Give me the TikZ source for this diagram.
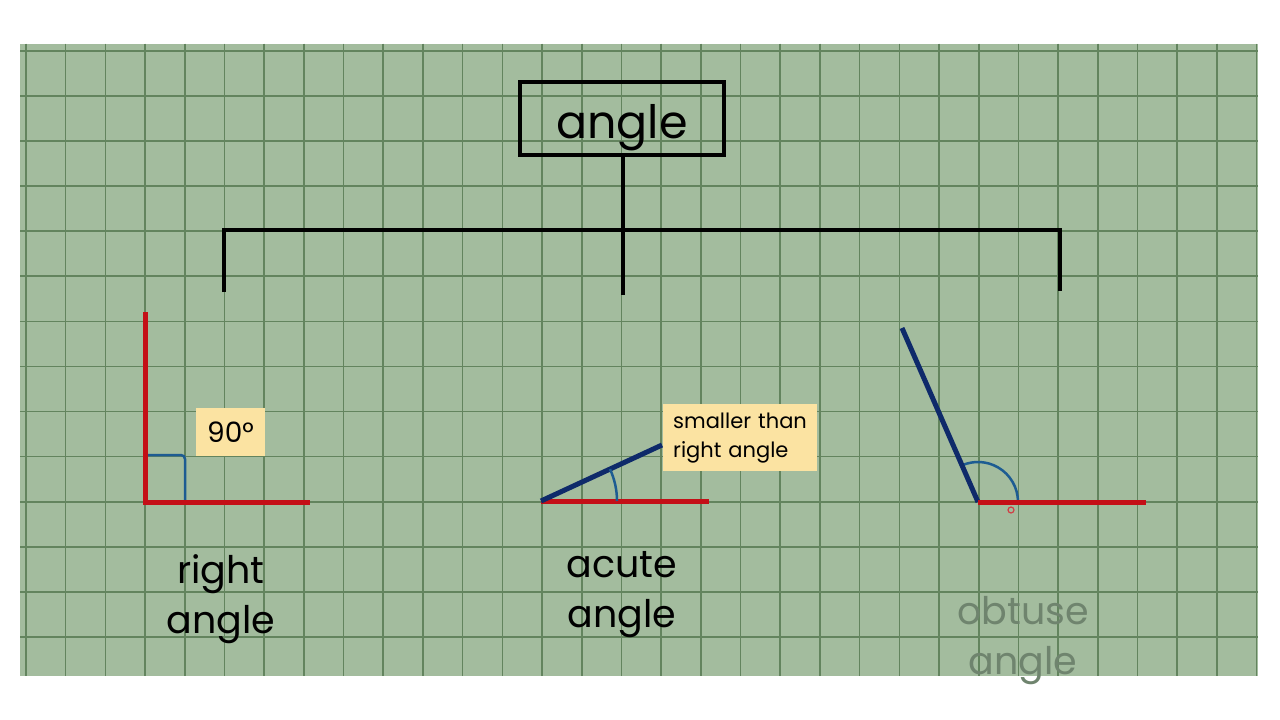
\documentclass[tikz,border=0pt]{standalone}
\usepackage{fontspec}
\setmainfont{Poppins}
\definecolor{panel}{HTML}{A3BC9E}
\definecolor{gridc}{HTML}{63845E}
\definecolor{rayred}{HTML}{C40F17}
\definecolor{navy}{HTML}{0E2A6A}
\definecolor{markblue}{HTML}{1D5C92}
\definecolor{yel}{HTML}{FBE3A2}
\definecolor{fadetext}{HTML}{6F846E}
\begin{document}
\begin{tikzpicture}[x=1pt,y=-1pt,
  gridline/.style={draw=gridc, line width=1.6pt},
  treeline/.style={draw=black, line width=4.5pt},
  redray/.style={draw=rayred, line width=5pt},
  navyray/.style={draw=navy, line width=5pt},
  anglemark/.style={draw=markblue, line width=2.5pt},
  yellowbox/.style={fill=yel, inner sep=0pt, font=\fontsize{21}{29}\selectfont, align=left},
  caption/.style={font=\fontsize{38}{50}\selectfont, align=center, inner sep=0pt}]
\useasboundingbox (0,0) rectangle (1280,720);
\fill[white] (0,0) rectangle (1280,720);
% panel
\fill[panel] (20,43.5) rectangle (1258,676);
\foreach \k in {-3,...,28} {\draw[gridline] ({145+39.7*\k},43.5) -- ({145+39.7*\k},676);}
\foreach \k in {-10,...,3} {\draw[gridline] (20,{501.7+45.1*\k}) -- (1258,{501.7+45.1*\k});}
% tree
\node[draw=black, line width=4.5pt, minimum width=204pt, minimum height=73pt, inner sep=0pt,
      text height=44pt, text depth=4pt,
      font=\fontsize{46}{56}\selectfont] (root) at (622,118.5) {angle};
\coordinate (md) at (623,295);
\coordinate (bl) at (224,230);
\coordinate (br) at (1060,230);
\coordinate (ld) at (224,292);
\coordinate (rd) at (1060,291);
\draw[treeline] (root.south -| md) -- (md);
\draw[treeline] (ld) -- (bl) -- (br) -- (rd);
% right angle
\coordinate (rv) at (145,502);
\coordinate (rt) at (145,312);
\coordinate (rr) at (310,502);
\draw[anglemark, rounded corners=4pt] (145,455) -- (185,455) -- (185,502);
\draw[redray] (rt) -- (rv) -- (rr);
\node[yellowbox, minimum width=69pt, minimum height=48pt, align=center,
      font=\fontsize{28}{32}\selectfont] (ninety) at (230.5,432) {90°};
\node[caption] (rightlbl) at (221,599) {right\\angle};
% acute angle
\coordinate (av) at (541,501);
\coordinate (ar) at (709,501);
\coordinate (at) at (662,445);
\draw[redray] (av) -- (ar);
\draw[navyray] (av) -- (at);
\draw[anglemark] (617,501) arc[start angle=0, end angle=24.8, radius=76pt];
\node[yellowbox, anchor=north west, minimum width=154pt, minimum height=67pt,
      text width=146pt, inner xsep=4pt] (smaller) at (663,404) {\hspace*{6pt}smaller than\\\hspace*{6pt}right angle};
\node[caption] (acutelbl) at (622,595) {acute\\angle};
% obtuse angle
\coordinate (ov) at (978,502);
\coordinate (or) at (1146,502);
\coordinate (ot) at (902,328);
\draw[anglemark] (1018,502) arc[start angle=0, end angle=113.6, radius=40pt];
\draw[navyray] (ov) -- (ot);
\draw[redray] (ov) -- (or);
\draw[rayred!80, line width=1.2pt] (1011,510) circle[radius=3pt];
\node[caption, text=fadetext] (obtuselbl) at (1023,641) {obtuse\\angle};
\end{tikzpicture}
\end{document}
